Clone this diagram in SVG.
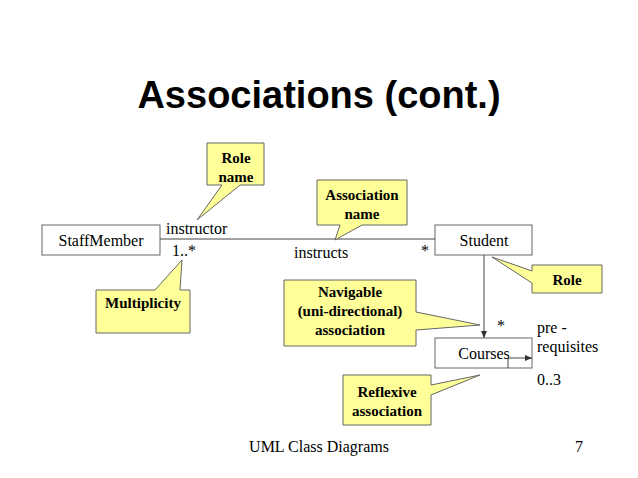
<svg xmlns="http://www.w3.org/2000/svg" width="638" height="478" viewBox="0 0 638 478">
<style>
.box{fill:#fff;stroke:#666;stroke-width:1}
.call{fill:#ffff99;stroke:#666;stroke-width:1}
.t{font-family:'Liberation Serif','Times New Roman','DejaVu Serif',serif;font-size:16px;fill:#000}
.b{font-family:'Liberation Serif','Times New Roman','DejaVu Serif',serif;font-size:15px;font-weight:bold;fill:#000;text-anchor:middle}
.ln{stroke:#444;stroke-width:1;fill:none}
</style>
<defs><marker id="ah" markerWidth="8" markerHeight="8" refX="7" refY="4" orient="auto" markerUnits="userSpaceOnUse"><path d="M0,1 L7,4 L0,7 z" fill="#333"/></marker></defs>
<rect width="638" height="478" fill="#fff"/>
<text x="319" y="108" text-anchor="middle" font-family="'Liberation Sans',Arial,sans-serif" font-size="38" font-weight="bold">Associations (cont.)</text>
<g id="staffmember"><rect class="box" x="42" y="225" width="118" height="30"/><text class="t" x="101" y="246" text-anchor="middle" font-size="17">StaffMember</text></g>
<g id="student"><rect class="box" x="435" y="225" width="97" height="30"/><text class="t" x="484" y="246" text-anchor="middle" font-size="17">Student</text></g>
<g id="courses"><rect class="box" x="435" y="338" width="97" height="30"/><text class="t" x="484" y="359" text-anchor="middle" font-size="17">Courses</text></g>
<g id="connectors">
<line class="ln" x1="160" y1="239" x2="435" y2="239"/>
<line class="ln" x1="484" y1="255" x2="484" y2="338" marker-end="url(#ah)"/>
<polyline class="ln" points="508,368 508,358 532,358" marker-end="url(#ah)"/>
</g>
<g id="labels">
<text class="t" x="166" y="234" font-size="15">instructor</text>
<text class="t" x="172" y="256" font-size="15">1..*</text>
<text class="t" x="294" y="258" font-size="15">instructs</text>
<text class="t" x="421" y="256" font-size="15">*</text>
<text class="t" x="497" y="331" font-size="15">*</text>
<text class="t" x="537" y="333" font-size="15">pre -</text>
<text class="t" x="537" y="352" font-size="15">requisites</text>
<text class="t" x="537" y="385" font-size="15">0..3</text>
</g>
<g id="callout-rolename"><path class="call" d="M207,143 H264 V185 H240 L197,220 L222,185 H207 Z"/><text class="b" x="236" y="163">Role</text><text class="b" x="236" y="182">name</text></g>
<g id="callout-assocname"><path class="call" d="M317,180 H407 V225 H362 L335,240 L340,225 H317 Z"/><text class="b" x="362" y="200">Association</text><text class="b" x="362" y="219">name</text></g>
<g id="callout-multiplicity"><path class="call" d="M96,290 H155 L182,260 L180,290 H190 V333 H96 Z"/><text class="b" x="143" y="308">Multiplicity</text></g>
<g id="callout-role"><path class="call" d="M532,265 H602 V293 H532 V283 L492,257 L532,271 Z"/><text class="b" x="567" y="285">Role</text></g>
<g id="callout-navigable"><path class="call" d="M284,280 H416 V312 L480,325 L416,330 V346 H284 Z"/><text class="b" x="350" y="297">Navigable</text><text class="b" x="350" y="316">(uni-directional)</text><text class="b" x="350" y="335">association</text></g>
<g id="callout-reflexive"><path class="call" d="M343,375 H431 V385 L480,375 L431,395 V425 H343 Z"/><text class="b" x="387" y="397">Reflexive</text><text class="b" x="387" y="416">association</text></g>
<g id="footer"><text class="t" x="319" y="452" text-anchor="middle" font-size="13">UML Class Diagrams</text><text class="t" x="575" y="452" font-size="13">7</text></g>
</svg>
